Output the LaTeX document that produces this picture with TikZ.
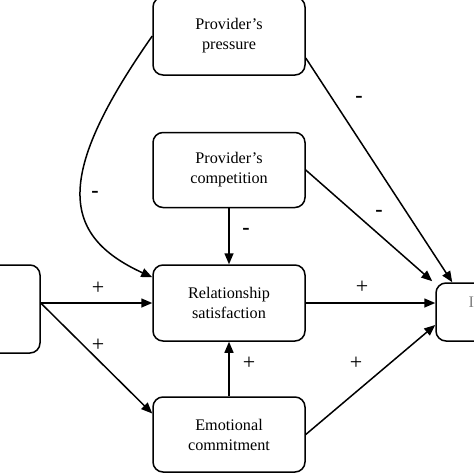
\documentclass[tikz,border=0pt]{standalone}
\usepackage{fontspec}
\setmainfont{Liberation Serif}
\usetikzlibrary{arrows.meta}
\tikzset{
  box/.style={draw, line width=1.5pt, rounded corners=10pt, minimum width=152pt,
    align=center, font=\fontsize{16.2}{20}\selectfont},
  link/.style={line width=1.5pt, -{Triangle[length=11pt,width=9pt]}},
  sign/.style={font=\fontsize{22}{22}\selectfont},
}
\begin{document}
\begin{tikzpicture}[x=1pt,y=-1pt]
  \useasboundingbox (0,0) rectangle (474,474);
  % Boxes in the middle column
  \node[box, minimum height=78pt] (press) at (229,36) {Provider's\\pressure};
  \node[box, minimum height=75pt] (comp) at (229,170) {Provider's\\competition};
  \node[box, minimum height=76pt] (rel) at (229,303) {Relationship\\satisfaction};
  \node[box, minimum height=75pt] (emo) at (229,434.5) {Emotional\\commitment};
  % Boxes cut by the frame
  \node[box, minimum width=100pt, minimum height=88pt] (lft) at (-10,309) {};
  \node[box, minimum width=100pt, minimum height=58pt] (out) at (486,312) {};
  \node[anchor=west, font=\fontsize{16.2}{20}\selectfont, gray] (outtxt) at (465,302) {I};
  % Arrows from the left box
  \draw[link] ([yshift=6pt]lft.east) -- (rel.west);
  \draw[link] ([yshift=6pt]lft.east) -- ([yshift=21pt]emo.west);
  % Curved arrow from pressure
  \draw[link] (press.west) .. controls (55,175) and (60,235) .. ([yshift=-13pt]rel.north west);
  % Vertical arrows
  \draw[link] (comp.south) -- (rel.north);
  \draw[link] (emo.north) -- (rel.south);
  % Arrows into the right box
  \draw[link] ([yshift=-22pt]press.east) -- ([xshift=17pt]out.north west);
  \draw[link] (comp.east) -- ([xshift=-3pt,yshift=1pt]out.north west);
  \draw[link] (rel.east) -- (rel.east -| out.west);
  \draw[link] (emo.east) -- ([yshift=-13pt]out.west);
  % Signs
  \node[sign] (s1) at (95,194) {\textbf{-}};
  \node[sign] (s2) at (359,99) {\textbf{-}};
  \node[sign] (s3) at (379,213) {\textbf{-}};
  \node[sign] (s4) at (246,231) {\textbf{-}};
  \node[sign] (s5) at (98,288) {+};
  \node[sign] (s6) at (98,345) {+};
  \node[sign] (s7) at (249,363) {+};
  \node[sign] (s8) at (362,287) {+};
  \node[sign] (s9) at (356,363) {+};
\end{tikzpicture}
\end{document}
